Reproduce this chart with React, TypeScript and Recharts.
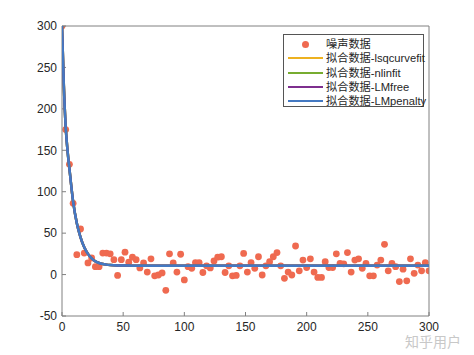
import React from "react";
import { ComposedChart, Line, Scatter, XAxis, YAxis, Legend } from "recharts";

const xs = [0, 3.03, 6.06, 9.09, 12.12, 15.15, 18.18, 21.21, 24.24, 27.27, 30.3, 33.33, 36.36, 39.39, 42.42, 45.45, 48.48, 51.52, 54.55, 57.58, 60.61, 63.64, 66.67, 69.7, 72.73, 75.76, 78.79, 81.82, 84.85, 87.88, 90.91, 93.94, 96.97, 100, 103.03, 106.06, 109.09, 112.12, 115.15, 118.18, 121.21, 124.24, 127.27, 130.3, 133.33, 136.36, 139.39, 142.42, 145.45, 148.48, 151.52, 154.55, 157.58, 160.61, 163.64, 166.67, 169.7, 172.73, 175.76, 178.79, 181.82, 184.85, 187.88, 190.91, 193.94, 196.97, 200, 203.03, 206.06, 209.09, 212.12, 215.15, 218.18, 221.21, 224.24, 227.27, 230.3, 233.33, 236.36, 239.39, 242.42, 245.45, 248.48, 251.52, 254.55, 257.58, 260.61, 263.64, 266.67, 269.7, 272.73, 275.76, 278.79, 281.82, 284.85, 287.88, 290.91, 293.94, 296.97, 300];

const noise = [300, 175, 133, 86, 24, 55, 26, 14, 20, 9.5, 9.5, 26, 26, 25, 18, -1, 18, 27, 15, 21, 18, 8, 14, 3, 19, -1.5, -0.5, 2, -19, 25, 14, 3, 24.5, -6.5, 9.5, 7.5, 14.5, 14.5, 2.5, 10.5, 8, 16.5, 21, 21.5, 2.5, 10.5, -1.5, -1, 10.5, 25.5, 3, 14.5, 7.5, 21.5, -0.5, 10.5, 15.5, 21.5, 26.5, 10.5, -4.5, 3, -0.5, 34.5, 4.5, 17.5, 8.5, 19, 3, -3.5, -3.5, 15.5, 8.5, 8.5, 25, 13.5, 13, 26.5, 3, 17.5, 19, 7.5, 13.5, -1.5, -1.5, 11.5, 17.5, 36.5, 4.5, 13.5, 9.5, -8.5, 6.5, -7.5, 19, 1.5, 11.5, 4.5, 14.5, 4.5];

const fitX = [0, 1.5, 3.03, 4.5, 6.06, 9.09, 12.12, 15.15, 18.18, 21.21, 24.24, 27.27, 30.3, 33.33, 36.36, 39.39, 42.42, 45.45, 48.48, 54.55, 60.61, 300];
const fitY = [300, 228, 178, 150, 128, 88, 62, 45, 33, 25, 19.5, 16, 14, 12.8, 12, 11.5, 11.2, 11, 10.9, 10.8, 10.7, 10.7];

const xTicks = [0, 50, 100, 150, 200, 250, 300];
const yTicks = [-50, 0, 50, 100, 150, 200, 250, 300];

const seriesNames = ["噪声数据", "拟合数据-lsqcurvefit", "拟合数据-nlinfit", "拟合数据-LMfree", "拟合数据-LMpenalty"];
const seriesColors = ["#EF6A50", "#EDB120", "#77AC30", "#7E2F8E", "#4479C2"];

const scatterData = xs.map((x, i) => ({ x, noise: noise[i] }));
const fitData = fitX.map((x, i) => ({ x, fit: fitY[i] }));

const AXIS = "#808080";
const TXT = "#262626";
const FONT = "'Liberation Sans', Arial, sans-serif";

const Dot = (p: any) => <circle cx={p.cx} cy={p.cy} r={3.4} fill={seriesColors[0]} />;
const NoTick = () => <g />;

const LegendBox = () => (
  <div
    style={{
      border: "1px solid #555",
      background: "#fff",
      width: 139,
      height: 69,
      boxSizing: "content-box",
      paddingTop: 2,
      fontFamily: "'Liberation Sans', 'Noto Sans CJK SC', sans-serif",
      fontSize: 11.2,
      color: TXT,
    }}
  >
    {seriesNames.map((n, i) => (
      <div key={n} style={{ display: "flex", alignItems: "center", height: 14.3 }}>
        <div style={{ width: 35, marginLeft: 4, marginRight: 3, display: "flex", justifyContent: "center", alignItems: "center", height: 14 }}>
          {i === 0 ? (
            <div style={{ width: 7, height: 7, borderRadius: 4, background: seriesColors[0] }} />
          ) : (
            <div style={{ width: 35, height: 2, background: seriesColors[i] }} />
          )}
        </div>
        <span style={{ whiteSpace: "nowrap", lineHeight: "14px" }}>{n}</span>
      </div>
    ))}
  </div>
);

export default function App() {
  const z: any = { zIndex: 350 };
  const zl: any = { zIndex: 700 };
  return (
    <div style={{ position: "absolute", left: 0, top: 0, width: 474, height: 355, background: "#fff" }}>
      <ComposedChart width={474} height={355} margin={{ top: 25, right: 44, bottom: 19, left: 22 }}>
        <XAxis
          xAxisId="b"
          dataKey="x"
          type="number"
          domain={[0, 300]}
          ticks={xTicks}
          allowDataOverflow
          height={20}
          stroke={AXIS}
          tickSize={-4}
          tickMargin={10}
          tick={{ fill: TXT, fontSize: 12, fontFamily: FONT }}
        />
        <XAxis
          xAxisId="t"
          orientation="top"
          dataKey="x"
          type="number"
          domain={[0, 300]}
          ticks={xTicks}
          height={1}
          stroke={AXIS}
          tickSize={-4}
          tick={NoTick}
        />
        <YAxis
          yAxisId="l"
          type="number"
          domain={[-50, 300]}
          ticks={yTicks}
          allowDataOverflow
          width={40}
          stroke={AXIS}
          tickSize={-4}
          tickMargin={9}
          tick={{ fill: TXT, fontSize: 12, fontFamily: FONT }}
        />
        <YAxis
          yAxisId="r"
          orientation="right"
          type="number"
          domain={[-50, 300]}
          ticks={yTicks}
          width={1}
          stroke={AXIS}
          tickSize={-4}
          tick={NoTick}
        />
        <Scatter
          xAxisId="b"
          yAxisId="l"
          data={scatterData}
          dataKey="noise"
          shape={Dot}
          isAnimationActive={false}
          {...z}
        />
        {[1, 2, 3, 4].map((i) => (
          <Line
            key={i}
            xAxisId="b"
            yAxisId="l"
            data={fitData}
            dataKey="fit"
            type="monotone"
            stroke={seriesColors[i]}
            strokeWidth={2.5}
            dot={false}
            activeDot={false}
            isAnimationActive={false}
            {...zl}
          />
        ))}
        <Legend
          layout="vertical"
          align="center"
          verticalAlign="middle"
          content={LegendBox}
          wrapperStyle={{ position: "absolute", left: 283, top: 34, width: 141, height: 72 }}
        />
      </ComposedChart>
      <div
        style={{
          position: "absolute",
          left: 405,
          top: 331,
          fontFamily: "'Noto Sans CJK SC', sans-serif",
          fontSize: 14,
          color: "#c8c8c8",
        }}
      >
        知乎用户
      </div>
    </div>
  );
}
